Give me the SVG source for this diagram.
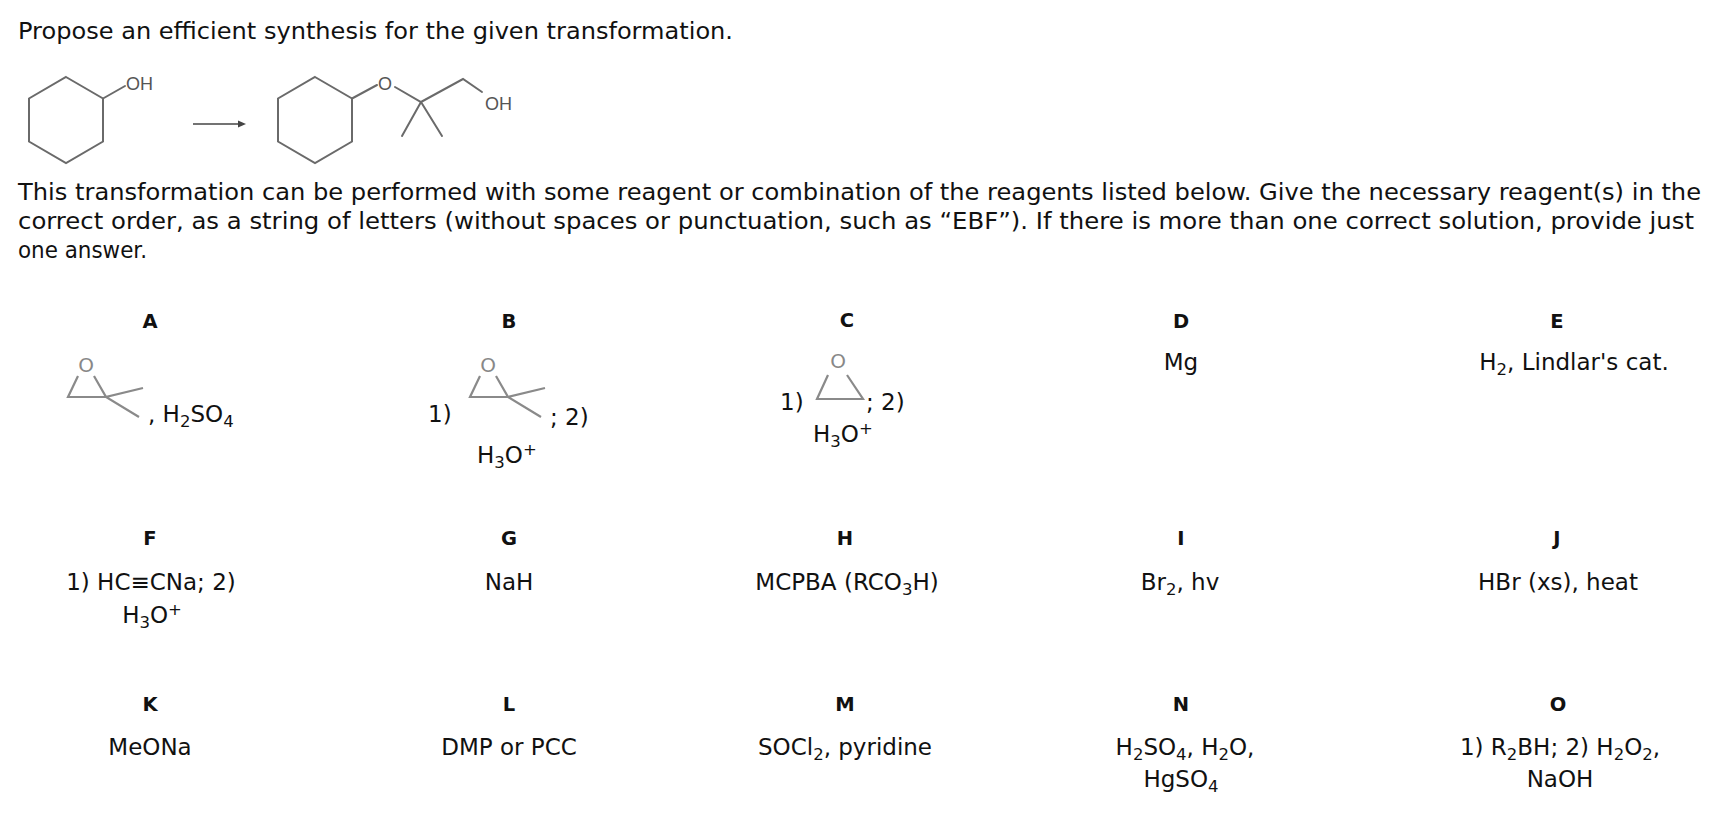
<svg xmlns="http://www.w3.org/2000/svg" width="1710" height="820" viewBox="0 0 1710 820">
<style>
text{font-family:"DejaVu Sans","Liberation Sans",sans-serif;font-size:23px;fill:#111}
.l{font-weight:bold;font-size:19.5px;text-anchor:middle}
.c{text-anchor:middle}
.s{font-size:16.5px}
.m{fill:none;stroke:#6a6a6a;stroke-width:2;stroke-linecap:round}
.e{fill:none;stroke:#8a8a8a;stroke-width:2.2}
.at{font-family:"Liberation Sans",Arial,sans-serif;font-size:18px;fill:#555}
.ea{font-size:20px;fill:#888}
</style>
<rect width="1710" height="820" fill="#fff"/>
<text x="18" y="39" textLength="715" lengthAdjust="spacingAndGlyphs">Propose an efficient synthesis for the given transformation.</text>
<g id="reaction">
<polygon class="m" points="66,77 103,98.5 103,141.5 66,163 29,141.5 29,98.5"/>
<line class="m" x1="103" y1="98.5" x2="125" y2="86"/>
<text class="at" x="126" y="90">OH</text>
<line x1="193" y1="124" x2="240" y2="124" stroke="#444" stroke-width="1.6"/>
<polygon points="246,124 238,120.5 238,127.5" fill="#444"/>
<polygon class="m" points="315,77 352,98.5 352,141.5 315,163 278,141.5 278,98.5"/>
<line class="m" x1="352" y1="98.5" x2="377" y2="85"/>
<text class="at" x="378" y="90">O</text>
<polyline class="m" points="395,87 421,102 463,79 482,92"/>
<line class="m" x1="421" y1="102" x2="402" y2="136"/>
<line class="m" x1="421" y1="102" x2="442" y2="136"/>
<text class="at" x="485" y="110">OH</text>
</g>
<text x="18" y="200" textLength="1683" lengthAdjust="spacingAndGlyphs">This transformation can be performed with some reagent or combination of the reagents listed below. Give the necessary reagent(s) in the</text>
<text x="18" y="229" textLength="1676" lengthAdjust="spacingAndGlyphs">correct order, as a string of letters (without spaces or punctuation, such as “EBF”). If there is more than one correct solution, provide just</text>
<text x="18" y="258" textLength="129" lengthAdjust="spacingAndGlyphs">one answer.</text>
<g id="A">
<text class="l" x="150" y="328">A</text>
<text class="ea c" x="86" y="372">O</text>
<polyline class="e" points="78,376 68,397 106,397 94,376"/>
<polyline class="e" points="143,388 106,397 139,417"/>
<text x="148" y="422">, H<tspan class="s" dy="5">2</tspan><tspan dy="-5">SO</tspan><tspan class="s" dy="5">4</tspan></text>
</g>
<g id="B">
<text class="l" x="509" y="328">B</text>
<text x="428" y="422">1)</text>
<text class="ea c" x="488" y="372">O</text>
<polyline class="e" points="480,376 470,397 508,397 496,376"/>
<polyline class="e" points="545,388 508,397 541,417"/>
<text x="550" y="425">; 2)</text>
<text x="477" y="463">H<tspan class="s" dy="5">3</tspan><tspan dy="-5">O</tspan><tspan class="s" dy="-8">+</tspan></text>
</g>
<g id="C">
<text class="l" x="847" y="327">C</text>
<text class="ea c" x="838" y="368">O</text>
<polyline class="e" points="828,375 817,399 863,399 847,375"/>
<text x="780" y="410">1)</text>
<text x="866" y="410">; 2)</text>
<text x="813" y="442">H<tspan class="s" dy="5">3</tspan><tspan dy="-5">O</tspan><tspan class="s" dy="-8">+</tspan></text>
</g>
<g id="D"><text class="l" x="1181" y="328">D</text><text class="c" x="1181" y="370">Mg</text></g>
<g id="E"><text class="l" x="1557" y="328">E</text><text class="c" x="1574" y="370">H<tspan class="s" dy="5">2</tspan><tspan dy="-5">, Lindlar's cat.</tspan></text></g>
<g id="F"><text class="l" x="150" y="545">F</text><text class="c" x="151" y="590">1) HC≡CNa; 2)</text><text class="c" x="152" y="623">H<tspan class="s" dy="5">3</tspan><tspan dy="-5">O</tspan><tspan class="s" dy="-8">+</tspan></text></g>
<g id="G"><text class="l" x="509" y="545">G</text><text class="c" x="509" y="590">NaH</text></g>
<g id="H"><text class="l" x="845" y="545">H</text><text class="c" x="847" y="590">MCPBA (RCO<tspan class="s" dy="5">3</tspan><tspan dy="-5">H)</tspan></text></g>
<g id="I"><text class="l" x="1181" y="545">I</text><text class="c" x="1180" y="590">Br<tspan class="s" dy="5">2</tspan><tspan dy="-5">, hv</tspan></text></g>
<g id="J"><text class="l" x="1557" y="545">J</text><text class="c" x="1558" y="590">HBr (xs), heat</text></g>
<g id="K"><text class="l" x="150" y="711">K</text><text class="c" x="150" y="755">MeONa</text></g>
<g id="L"><text class="l" x="509" y="711">L</text><text class="c" x="509" y="755">DMP or PCC</text></g>
<g id="M"><text class="l" x="845" y="711">M</text><text class="c" x="845" y="755">SOCl<tspan class="s" dy="5">2</tspan><tspan dy="-5">, pyridine</tspan></text></g>
<g id="N"><text class="l" x="1181" y="711">N</text><text class="c" x="1185" y="755">H<tspan class="s" dy="5">2</tspan><tspan dy="-5">SO</tspan><tspan class="s" dy="5">4</tspan><tspan dy="-5">, H</tspan><tspan class="s" dy="5">2</tspan><tspan dy="-5">O,</tspan></text><text class="c" x="1181" y="787">HgSO<tspan class="s" dy="5">4</tspan></text></g>
<g id="O"><text class="l" x="1558" y="711">O</text><text class="c" x="1560" y="755">1) R<tspan class="s" dy="5">2</tspan><tspan dy="-5">BH; 2) H</tspan><tspan class="s" dy="5">2</tspan><tspan dy="-5">O</tspan><tspan class="s" dy="5">2</tspan><tspan dy="-5">,</tspan></text><text class="c" x="1560" y="787">NaOH</text></g>
<g id="connectors"></g>
</svg>
